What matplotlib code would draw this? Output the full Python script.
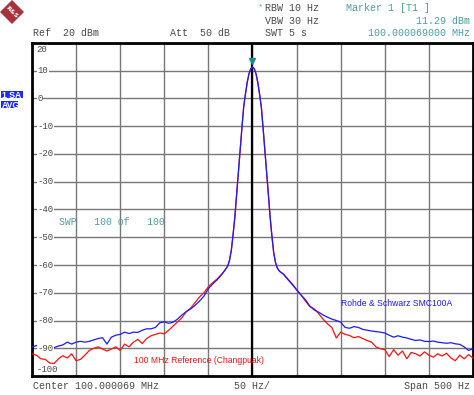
import numpy as np
import matplotlib
matplotlib.use("Agg")
import matplotlib.pyplot as plt
from matplotlib.patches import Polygon, Rectangle

# frequency offset from center (Hz) and trace levels (dBm)
offset_hz = [-250, -245, -240, -235, -230, -225, -220, -215, -210, -205,
             -200, -195, -190, -185, -180, -175, -170, -165, -160, -155,
             -150, -145, -140, -135, -130, -125, -120, -115, -110, -105,
             -100, -95, -90, -85, -80, -75, -70, -65, -60, -55,
             -50, -45, -40, -35, -32, -30, -28, -26, -24, -22,
             -20, -18, -16, -14, -12, -10, -8, -6, -4, -2,
             0, 2, 4, 6, 8, 10, 12, 14, 16, 18,
             20, 22, 24, 26, 28, 30, 32, 35, 40, 45,
             50, 55, 60, 65, 70, 75, 80, 85, 90, 95,
             100, 105, 110, 115, 120, 125, 130, 135, 140, 145,
             150, 155, 160, 165, 170, 175, 180, 185, 190, 195,
             200, 205, 210, 215, 220, 225, 230, 235, 240, 245, 250]

smc100a = [-89.6, -89.0, -89.8, -89.5, -90.0, -89.8, -89.2, -88.8, -87.8, -88.5,
           -87.8, -87.5, -87.8, -87.5, -87.0, -86.5, -86.2, -88.5, -86.0, -85.3,
           -85.0, -84.2, -84.7, -84.2, -84.3, -83.5, -83.0, -83.0, -82.5, -80.8,
           -80.5, -81.0, -80.6, -79.5, -78.0, -76.8, -75.8, -74.5, -73.0, -71.2,
           -68.5, -66.8, -65.3, -63.5, -62.2, -61.3, -60.3, -58.2, -54.7, -49.0,
           -42.7, -34.6, -26.6, -18.6, -10.6, -3.0, 1.6, 5.8, 8.9, 10.7,
           11.3, 10.7, 8.9, 5.8, 1.6, -3.0, -10.6, -18.6, -26.6, -34.6,
           -42.7, -49.5, -55.5, -59.0, -61.0, -62.0, -62.6, -63.3, -65.2, -67.0,
           -69.0, -70.8, -72.5, -74.8, -76.2, -77.0, -78.0, -78.8, -79.5, -80.0,
           -80.6, -82.5, -82.8, -82.2, -82.5, -83.2, -83.5, -83.8, -84.0, -84.2,
           -84.5, -85.3, -86.0, -85.5, -86.0, -86.3, -86.8, -87.2, -87.0, -87.5,
           -87.6, -87.4, -87.8, -88.0, -88.2, -88.0, -88.4, -88.6, -89.5, -90.8, -90.2]

changpuak = [-92.0, -92.5, -93.8, -94.0, -95.3, -95.5, -93.8, -92.7, -93.5, -92.0,
             -94.5, -94.0, -92.5, -90.8, -90.0, -89.5, -90.3, -91.0, -90.3, -89.5,
             -90.8, -88.5, -89.5, -87.8, -86.8, -88.3, -86.5, -85.5, -85.0, -84.5,
             -84.8, -83.5, -82.0, -80.5, -79.0, -76.8, -75.5, -73.5, -71.5, -70.0,
             -67.8, -66.3, -65.0, -63.3, -62.2, -61.3, -60.3, -58.2, -54.7, -49.0,
             -42.7, -34.6, -26.6, -18.6, -10.6, -3.0, 1.6, 5.8, 8.9, 10.7,
             11.3, 10.7, 8.9, 5.8, 1.6, -3.0, -10.6, -18.6, -26.6, -34.6,
             -42.7, -49.5, -55.5, -59.0, -61.0, -62.0, -62.6, -63.2, -65.0, -66.8,
             -68.8, -70.8, -73.0, -75.0, -75.8, -77.5, -79.5, -81.2, -82.5, -86.3,
             -84.2, -85.0, -85.4, -86.2, -85.8, -86.5, -87.2, -87.8, -89.5, -90.2,
             -90.5, -93.0, -90.5, -92.5, -91.0, -93.8, -91.5, -92.0, -92.8, -91.3,
             -92.5, -93.2, -92.0, -92.8, -91.8, -93.5, -94.5, -92.5, -93.8, -92.3, -93.5]

y_ticks = [20, 10, 0, -10, -20, -30, -40, -50, -60, -70, -80, -90, -100]
marker_level = 11.29

W, H = 474, 395
fig = plt.figure(figsize=(W / 100, H / 100), dpi=100)
fig.patch.set_facecolor("white")

def px(x, y):
    return x / W, 1 - y / H

mono = "Liberation Mono"
grey = "#4a4a4a"
teal = "#4b9ea3"

ax = fig.add_axes([32 / W, (H - 376) / H, 441 / W, 333 / H])
ax.set_xlim(-250, 250)
ax.set_ylim(-100, 20)
ax.set_xticks(np.arange(-250, 251, 50))
ax.set_yticks(y_ticks)
ax.grid(True, color="#777777", linewidth=1.0)
ax.tick_params(length=0, labelbottom=False, labelleft=False)
for s in ax.spines.values():
    s.set_linewidth(2.0)
    s.set_color("black")
ax.axvline(0, color="black", linewidth=1.6, zorder=3)

ax.plot(offset_hz, changpuak, color="#ff1010", linewidth=0.9, zorder=4)
ax.plot(offset_hz, smc100a, color="#1a1aff", linewidth=0.9, zorder=5)
ax.plot([0], [marker_level + 2.2], marker="v", color="#1f8a8f",
        markersize=5, zorder=6)

# level labels inside the plot
for v in y_ticks:
    if v == 20:
        ax.text(-245, 17.5, "20", fontsize=6.5, family=mono, color=grey,
                va="center", ha="left")
    elif v == -100:
        ax.text(-245, -97.5, "-100", fontsize=6.5, family=mono, color=grey,
                va="center", ha="left")
    else:
        ax.text(-244, v, str(v), fontsize=6.5, family=mono, color=grey,
                va="center", ha="left", zorder=6,
                bbox=dict(facecolor="white", edgecolor="none", pad=0.5))

ax.text(-219, -44.5, "SWP   100 of   100", fontsize=7, family=mono,
        color=teal, va="center", ha="left", zorder=6)
ax.text(100, -74, "Rohde & Schwarz SMC100A", fontsize=6.2,
        family="Liberation Sans", color="#1a1aff", va="center", zorder=6)
ax.text(-134, -94.5, "100 MHz Reference (Changpuak)", fontsize=6.2,
        family="Liberation Sans", color="#ff1010", va="center", zorder=6)

# header
fig.text(*px(33, 33), "Ref  20 dBm", fontsize=7.2, family=mono, color=grey, va="center")
fig.text(*px(170, 33), "Att  50 dB", fontsize=7.2, family=mono, color=grey, va="center")
fig.text(*px(258, 7), "*", fontsize=6, family=mono, color="#20c060", va="center")
fig.text(*px(265, 8), "RBW 10 Hz", fontsize=7.2, family=mono, color=grey, va="center")
fig.text(*px(265, 21), "VBW 30 Hz", fontsize=7.2, family=mono, color=grey, va="center")
fig.text(*px(265, 33), "SWT 5 s", fontsize=7.2, family=mono, color=grey, va="center")
fig.text(*px(346, 8), "Marker 1 [T1 ]", fontsize=7.2, family=mono, color=teal, va="center")
fig.text(*px(470, 21), "11.29 dBm", fontsize=7.2, family=mono, color=teal,
         va="center", ha="right")
fig.text(*px(470, 33), "100.000069000 MHz", fontsize=7.2, family=mono, color=teal,
         va="center", ha="right")

# footer
fig.text(*px(33, 386), "Center 100.000069 MHz", fontsize=7.2, family=mono, color=grey, va="center")
fig.text(*px(234, 386), "50 Hz/", fontsize=7.2, family=mono, color=grey, va="center")
fig.text(*px(470, 386), "Span 500 Hz", fontsize=7.2, family=mono, color=grey,
         va="center", ha="right")

# trace info boxes
for x1, y0, y1, label in [(23, 91, 98, "1 SA"), (18, 101, 108, "AVG")]:
    x0, ya = px(1, y1)
    fig.patches.append(Rectangle((x0, ya), (x1 - 1) / W, (y1 - y0) / H,
                                 transform=fig.transFigure,
                                 facecolor="#1a2cff", edgecolor="none"))
    fig.text(*px(2, (y0 + y1) / 2 + 0.5), label, fontsize=6.2,
             family="Liberation Sans", color="white", va="center", weight="bold")

# R&S logo diamond
pts = [px(12, 0), px(24, 12), px(12, 24), px(0, 12)]
fig.patches.append(Polygon(pts, closed=True, transform=fig.transFigure,
                           facecolor="#a8323c", edgecolor="none"))
fig.text(*px(12, 12), "R&S", fontsize=4.5, color="white", weight="bold",
         ha="center", va="center", rotation=-45)

fig.savefig("out.png", dpi=100)
